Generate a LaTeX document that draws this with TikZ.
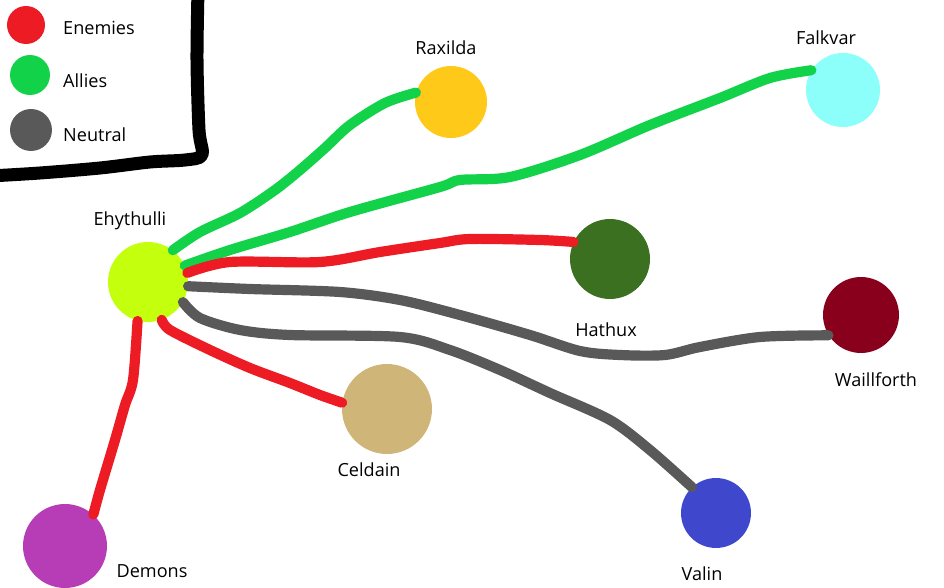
\documentclass[tikz,border=0pt]{standalone}
\usepackage{fontspec}
\setmainfont{Open Sans}
\definecolor{enemyred}{HTML}{ED1C24}
\definecolor{allygreen}{HTML}{12D24A}
\definecolor{neutralgrey}{HTML}{595959}
\begin{document}
\begin{tikzpicture}[x=0.02cm,y=-0.02cm,font=\fontsize{10.3}{12}\selectfont,
    blob/.style={circle,inner sep=0pt,minimum size=#1*0.04cm},
    enemy/.style={line width=5.8pt,line cap=round,line join=round,enemyred},
    ally/.style={line width=5.8pt,line cap=round,line join=round,allygreen},
    neutral/.style={line width=5.8pt,line cap=round,line join=round,neutralgrey}]
    \useasboundingbox (0,0) rectangle (944,588);
    % legend
    \node[blob=19,fill=enemyred] (lenemy) at (26,25) {};
    \node[blob=20,fill=allygreen] (lally) at (30,75) {};
    \node[blob=21,fill=neutralgrey] (lneutral) at (31,130) {};
    \node[anchor=west] (tenemy) at (57,28) {Enemies};
    \node[anchor=west] (tally) at (57,81) {Allies};
    \node[anchor=west] (tneutral) at (57,135) {Neutral};
    \draw[line width=7.4pt,line cap=round,line join=round] plot[smooth] coordinates {(198,-10) (197,60) (199,130) (202,155) (185,160) (150,162) (100,168) (40,173) (-10,176)};
    % people
    \node[blob=40,fill={rgb,255:red,196;green,255;blue,14}] (ehy) at (148,282) {};
    \node[blob=36,fill={rgb,255:red,255;green,201;blue,26}] (rax) at (451,102) {};
    \node[blob=37,fill={rgb,255:red,140;green,255;blue,250}] (falk) at (843,90) {};
    \node[blob=40,fill={rgb,255:red,58;green,112;blue,32}] (hath) at (610,259) {};
    \node[blob=38,fill={rgb,255:red,136;green,0;blue,27}] (waill) at (861,315) {};
    \node[blob=35,fill={rgb,255:red,63;green,72;blue,204}] (valin) at (716,513) {};
    \node[blob=45,fill={rgb,255:red,207;green,181;blue,120}] (celd) at (387,409) {};
    \node[blob=42,fill={rgb,255:red,183;green,61;blue,183}] (demons) at (65,546) {};
    \node (tehy) at (130,221) {Ehythulli};
    \node (trax) at (446,48) {Raxilda};
    \node (tfalk) at (826,38) {Falkvar};
    \node (thath) at (606,330) {Hathux};
    \node (twaill) at (876,380) {Waillforth};
    \node (tvalin) at (702,574) {Valin};
    \node (tceld) at (369,470) {Celdain};
    \node (tdemons) at (152,571) {Demons};
    % relations
    \draw[ally] plot[smooth] coordinates {(ehy.52) (200,232) (240,213) (275,190) (300,170) (325,148) (350,125) (385,103) (rax.165)};
    \draw[ally] plot[smooth] coordinates {(ehy.24) (230,250) (290,232) (350,212) (440,187) (460,180) (510,177) (580,155) (650,125) (720,98) (770,78) (falk.148)};
    \draw[enemy] plot[smooth] coordinates {(ehy.13) (230,262) (320,262) (380,252) (440,243) (470,239) (540,240) (hath.155)};
    \draw[neutral] plot[smooth] coordinates {(ehy.-6) (250,289) (340,292) (400,300) (460,315) (530,335) (580,351) (620,355) (665,355) (700,347) (760,337) (waill.212)};
    \draw[neutral] plot[smooth] coordinates {(ehy.-30) (200,318) (240,330) (290,335) (400,337) (450,350) (500,370) (550,393) (610,420) (650,450) (valin.133)};
    \draw[enemy] plot[smooth] coordinates {(ehy.-70) (170,330) (210,350) (250,368) (290,383) (320,395) (celd.172)};
    \draw[enemy] plot[smooth] coordinates {(ehy.-105) (133,380) (125,405) (115,440) (100,490) (demons.48)};
\end{tikzpicture}
\end{document}
